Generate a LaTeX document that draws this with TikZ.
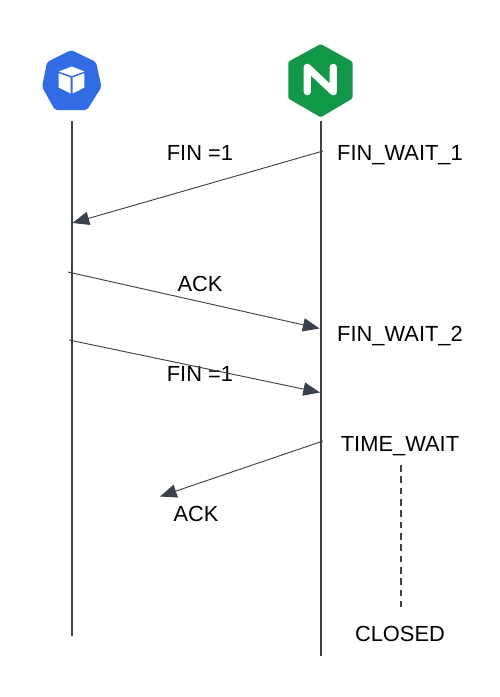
\documentclass[tikz,border=0pt]{standalone}
\usepackage{fontspec}
\setmainfont{Liberation Sans}
\usetikzlibrary{arrows.meta}
\definecolor{lineink}{HTML}{3A414A}
\definecolor{kubeblue}{HTML}{326CE5}
\definecolor{nginxgreen}{HTML}{109748}
\tikzset{
  lifeline/.style={draw=lineink,line width=1.5bp},
  msg/.style={draw=lineink,line width=0.7bp,-{Triangle[length=12.5bp,width=10bp,color=lineink]}},
  lbl/.style={font=\fontsize{16.4bp}{18bp}\selectfont,text=black,inner sep=0pt,anchor=base},
  waitline/.style={draw=lineink,line width=0.8bp,dash pattern=on 5bp off 3.5bp}
}
\begin{document}
\begin{tikzpicture}[x=0.75bp,y=-0.75bp]
\useasboundingbox (0,0) rectangle (500,697);
% Kubernetes icon
\fill[kubeblue,rounded corners=1.5bp] (71.3,50) -- (96,62) -- (101.5,87) -- (87,110) -- (55,110) -- (42,87) -- (47,62) -- cycle;
\fill[white] (71.7,66.5) -- (84.5,71.5) -- (71.7,76) -- (58.8,71.5) -- cycle;
\fill[white] (58.6,73.2) -- (70.7,77.5) -- (70.7,93.5) -- (58.6,87.5) -- cycle;
\fill[white] (84.4,73.2) -- (72.7,77.5) -- (72.7,93.5) -- (84.4,87.5) -- cycle;
% NGINX icon
\fill[nginxgreen,rounded corners=1bp] (320.7,44) -- (352.5,61.7) -- (352.5,98.5) -- (320.7,117.3) -- (288.3,98.5) -- (288.3,61.7) -- cycle;
\draw[white,line width=5.4bp,line cap=round,line join=round] (307.3,91.7) -- (307.3,67.3) -- (333.3,91.7) -- (333.3,67.3);
% anchors
\coordinate (ltop) at (72,121);
\coordinate (lbot) at (72,636);
\coordinate (rtop) at (321,121);
\coordinate (rbot) at (321,656);
\coordinate (a1s) at (323,151);
\coordinate (a1e) at (72.5,223);
\coordinate (a2s) at (68,272);
\coordinate (a2e) at (319.5,328.5);
\coordinate (a3s) at (69,340);
\coordinate (a3e) at (320,392.5);
\coordinate (a4s) at (323,441);
\coordinate (a4e) at (160,496.5);
% lifelines
\draw[lifeline] (ltop) -- (lbot);
\draw[lifeline] (rtop) -- (rbot);
% labels
\node[lbl] (fin1) at (200,160) {FIN =1};
\node[lbl] (fw1) at (400,160) {FIN\_WAIT\_1};
\node[lbl] (ack1) at (200,291) {ACK};
\node[lbl] (fw2) at (400,341) {FIN\_WAIT\_2};
\node[lbl] (fin2) at (200,381) {FIN =1};
\node[lbl] (tw) at (400,451) {TIME\_WAIT};
\node[lbl] (ack2) at (196,521) {ACK};
\node[lbl] (closed) at (400,641) {CLOSED};
% messages
\draw[msg] (a1s) -- (a1e);
\draw[msg] (a2s) -- (a2e);
\draw[msg] (a3s) -- (a3e);
\draw[msg] (a4s) -- (a4e);
\coordinate (ws) at (401,465);
\coordinate (we) at (401,607);
\draw[waitline] (ws) -- (we);
\end{tikzpicture}
\end{document}
